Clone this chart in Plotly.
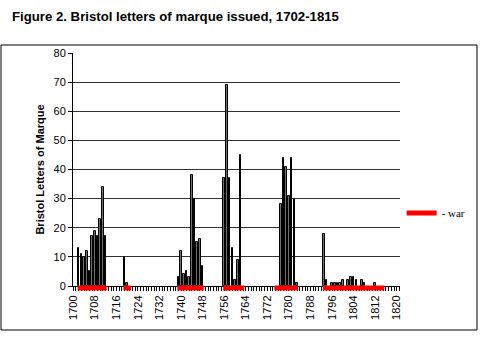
import plotly.graph_objects as go

# ---- data ----
years = [1702, 1703, 1704, 1705, 1706, 1707, 1708, 1709, 1710, 1711, 1712,
         1719, 1720,
         1739, 1740, 1741, 1742, 1743, 1744, 1745, 1746, 1747, 1748,
         1756, 1757, 1758, 1759, 1760, 1761, 1762,
         1777, 1778, 1779, 1780, 1781, 1782, 1783,
         1793, 1794, 1796, 1797, 1798, 1799, 1800, 1802, 1803, 1804, 1805, 1807, 1808, 1812]
letters = [13, 11, 10, 12, 5, 17, 19, 17, 23, 34, 17,
           10, 1,
           3, 12, 4, 5, 3, 38, 30, 15, 16, 7,
           37, 69, 37, 13, 2, 9, 45,
           28, 44, 41, 31, 44, 30, 1,
           18, 2, 1, 1, 1, 1, 2, 2, 3, 3, 2, 2, 1, 1]
war_starts = [1702, 1719, 1739, 1756, 1775, 1793]
war_ends = [1712, 1721, 1748, 1763, 1783, 1815]
x_tick_vals = list(range(1700, 1821, 8))
y_tick_vals = list(range(0, 81, 10))

title_text = "Figure 2. Bristol letters of marque issued, 1702-1815"
y_title = "Bristol Letters of Marque"
war_name = "- war"

# ---- figure ----
W, H = 493, 346
L, R, T, B = 73, 400, 53, 286


def px_x(p):
    return (p - L) / (R - L)


def px_y(p):
    return (B - p) / (B - T)


fig = go.Figure()
fig.add_trace(go.Bar(
    x=years, y=letters, width=0.6,
    marker=dict(color="#707070", line=dict(color="black", width=1)),
    showlegend=False, hoverinfo="x+y"))

# war periods drawn as thick red segments on the category axis (x in data units)
for i, (s, e) in enumerate(zip(war_starts, war_ends)):
    fig.add_shape(type="line", xref="x", yref="paper",
                  x0=s - 0.4, x1=e + 0.4, y0=px_y(288), y1=px_y(288),
                  line=dict(color="#ff0000", width=5), layer="above",
                  showlegend=(i == 0), name=war_name)

fig.update_layout(
    width=W, height=H,
    margin=dict(l=L, r=W - R, t=T, b=H - B, pad=0),
    paper_bgcolor="white", plot_bgcolor="white",
    font=dict(family="Arial, Liberation Sans, sans-serif", color="black", size=11),
    title=dict(text="<b>" + title_text + "</b>", x=12 / W, xanchor="left",
               xref="container", y=1 - 16 / H, yanchor="middle", yref="container",
               font=dict(size=13.2, family="Arial, Liberation Sans, sans-serif", color="black")),
    bargap=0,
    showlegend=True,
    legend=dict(x=1.005, xanchor="left", y=(B - 213) / (B - T), yanchor="middle",
                font=dict(family="Liberation Serif, Times New Roman, serif", size=11),
                bgcolor="rgba(0,0,0,0)", itemwidth=30),
    xaxis=dict(range=[1699.9, 1821.2], tickmode="array", tickvals=x_tick_vals,
               tickangle=-90, ticks="outside", ticklen=4, tickcolor="black",
               showline=True, linecolor="black", linewidth=1, showgrid=False,
               zeroline=False, layer="below traces",
               tickfont=dict(size=11),
               minor=dict(dtick=1, tick0=1700, ticks="outside", ticklen=4,
                          tickcolor="black", showgrid=False)),
    yaxis=dict(range=[0, 80], tickmode="array", tickvals=y_tick_vals,
               ticks="outside", ticklen=4, tickcolor="black",
               showline=True, linecolor="black", linewidth=1,
               showgrid=True, gridcolor="#333333", gridwidth=1,
               zeroline=False, tickfont=dict(size=11),
               title=dict(text="<b>" + y_title + "</b>", standoff=6,
                          font=dict(size=11))),
)

# chart border
fig.add_shape(type="rect", xref="paper", yref="paper",
              x0=px_x(1), x1=px_x(477), y0=px_y(330), y1=px_y(45),
              line=dict(color="black", width=1), fillcolor="rgba(0,0,0,0)", layer="below")

fig.write_html("out.html")
